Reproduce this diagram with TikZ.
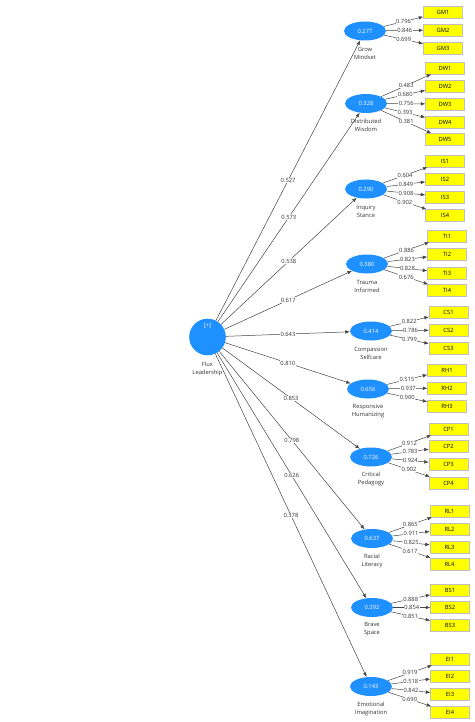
\documentclass[tikz,border=0pt]{standalone}
\usepackage{fontspec}
\setmainfont{Open Sans}
\usetikzlibrary{shapes.geometric,arrows.meta}
\definecolor{lvblue}{RGB}{30,144,255}
\definecolor{mvyellow}{RGB}{255,255,0}
\definecolor{lnk}{RGB}{70,70,70}
\begin{document}
\begin{tikzpicture}[x=1pt,y=-1pt,
  txt/.style={font=\fontsize{5.8}{8}\selectfont},
  lv/.style={ellipse, fill=lvblue, minimum width=42pt, minimum height=19pt, inner sep=0pt, text=white, txt},
  mv/.style={rectangle, fill=mvyellow, draw=black!25, line width=0.4pt, minimum width=39pt, minimum height=12pt, inner sep=0pt, txt},
  lvlabel/.style={align=center, inner sep=0pt, text=black!80, txt},
  coef/.style={fill=white, inner sep=0.6pt, text=black!80, txt},
  load/.style={fill=white, inner sep=0.4pt, text=black!80, txt},
  link/.style={draw=lnk, line width=0.5pt, -{Latex[length=4.5pt,width=3.6pt]}},
]
\useasboundingbox (0,0) rectangle (474,722);
\fill[white] (0,0) rectangle (474,722);

% central construct
\node[circle, fill=lvblue, minimum size=36.6pt, inner sep=0pt] (flux) at (207.5,337) {};
\node[text=white, inner sep=0pt, txt] (fluxplus) at (207.5,326) {[+]};
\node[lvlabel] (fluxL) at (207.5,369) {Flux\\Leadership};

% latent variables
\foreach \n/\x/\y/\r/\la/\lb/\p in {
  gm/365/31/0.277/Grow/Mindset/0.527,
  dw/366/103.5/0.328/Distributed/Wisdom/0.573,
  is/366/189/0.290/Inquiry/Stance/0.538,
  ti/367/264/0.380/Trauma/Informed/0.617,
  cs/371/331/0.414/Compassion/Selfcare/0.643,
  rh/368/389/0.656/Responsive/Humanizing/0.810,
  cp/371/457/0.726/Critical/Pedagogy/0.853,
  rl/372/538.5/0.637/Racial/Literacy/0.798,
  bs/372/607.5/0.392/Brave/Space/0.626,
  ei/371/686.5/0.143/Emotional/Imagination/0.378}{
  \node[lv] (\n) at (\x,\y) {\r};
  \node[lvlabel] (\n L) at (\x,\y+22) {\la\\\lb};
  \draw[link] (flux) -- node[coef] {\p} (\n);
}

% indicators
\foreach \lv/\ind/\x/\y/\l in {
  gm/GM1/443/12/0.796, gm/GM2/443/30/0.846, gm/GM3/443/48/0.699,
  dw/DW1/445/68/0.483, dw/DW2/445/86/0.680, dw/DW3/445/104/0.756, dw/DW4/445/122/0.393, dw/DW5/445/139.5/0.381,
  is/IS1/445/161/0.604, is/IS2/445/179.5/0.849, is/IS3/445/197/0.908, is/IS4/445/215.5/0.902,
  ti/TI1/447/236/0.886, ti/TI2/447/254.5/0.823, ti/TI3/447/273/0.828, ti/TI4/447/290.5/0.676,
  cs/CS1/448.5/312/0.822, cs/CS2/448.5/330/0.786, cs/CS3/448.5/348/0.799,
  rh/RH1/447/370/0.515, rh/RH2/447/388/0.937, rh/RH3/447/406/0.900,
  cp/CP1/448.5/429/0.912, cp/CP2/448.5/446.5/0.783, cp/CP3/448.5/464/0.924, cp/CP4/448.5/483/0.902,
  rl/RL1/449.5/511/0.865, rl/RL2/449.5/529/0.911, rl/RL3/449.5/547/0.825, rl/RL4/449.5/564/0.617,
  bs/BS1/450/590.5/0.888, bs/BS2/450/607.5/0.854, bs/BS3/450/625/0.851,
  ei/EI1/450/659/0.919, ei/EI2/450/676.5/0.518, ei/EI3/450/694.5/0.842, ei/EI4/450/712.5/0.690}{
  \node[mv] (\ind) at (\x,\y) {\ind};
  \draw[link] (\lv) -- node[load] {\l} (\ind);
}
\end{tikzpicture}
\end{document}
